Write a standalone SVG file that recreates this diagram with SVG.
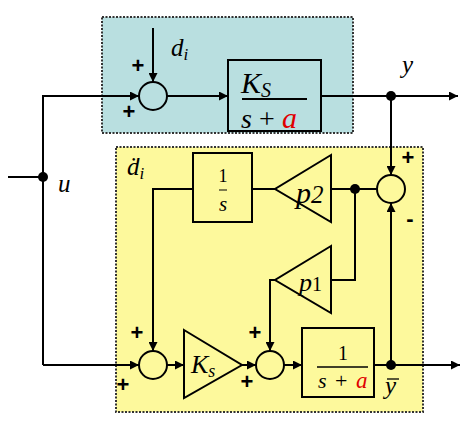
<svg xmlns="http://www.w3.org/2000/svg" width="474" height="437" viewBox="0 0 474 437">
<style>
.ln{fill:none;stroke:#000;stroke-width:2}
.blk{fill:none;stroke:#000;stroke-width:2}
.sum{fill:none;stroke:#000;stroke-width:2}
.dot{fill:#000}
.m{font-family:"Liberation Serif","DejaVu Serif",serif;font-style:italic;fill:#000}
.n{font-family:"Liberation Serif","DejaVu Serif",serif;fill:#000}
.red{fill:#e00000}
.sg{font-family:"Liberation Sans","DejaVu Sans",sans-serif;font-weight:bold;font-size:22px;fill:#000;text-anchor:middle}
.reg{stroke:#333;stroke-width:2;stroke-dasharray:2 1.5}
</style>
<defs>
<marker id="ah" viewBox="0 0 10 10" refX="10" refY="5" markerWidth="10" markerHeight="9" markerUnits="userSpaceOnUse" orient="auto">
<path d="M0,0 L10,5 L0,10 z" fill="#000"/>
</marker>
</defs>
<rect id="plant-region" class="reg" x="102" y="17" width="251" height="116" fill="#b9dfe0"/>
<rect id="observer-region" class="reg" x="116" y="147" width="307" height="265" fill="#fdf99c"/>
<g id="connectors">
<path class="ln" d="M8,177 H43"/>
<path class="ln" d="M43,365 V96 H139" marker-end="url(#ah)"/>
<path class="ln" d="M153,28 V82" marker-end="url(#ah)"/>
<path class="ln" d="M167,96 H228" marker-end="url(#ah)"/>
<path class="ln" d="M321,96 H458" marker-end="url(#ah)"/>
<path class="ln" d="M391,96 V175" marker-end="url(#ah)"/>
<path class="ln" d="M377,189 H331"/>
<path class="ln" d="M275,189 H252"/>
<path class="ln" d="M193,189 H153 V351" marker-end="url(#ah)"/>
<path class="ln" d="M355,189 V280 H331"/>
<path class="ln" d="M275,280 H270 V351" marker-end="url(#ah)"/>
<path class="ln" d="M43,365 H139" marker-end="url(#ah)"/>
<path class="ln" d="M167,365 H184" marker-end="url(#ah)"/>
<path class="ln" d="M242,365 H256" marker-end="url(#ah)"/>
<path class="ln" d="M284,365 H302" marker-end="url(#ah)"/>
<path class="ln" d="M374,365 H460" marker-end="url(#ah)"/>
<path class="ln" d="M391,365 V203" marker-end="url(#ah)"/>
<circle class="dot" cx="43" cy="177" r="5"/>
<circle class="dot" cx="391" cy="96" r="5"/>
<circle class="dot" cx="355" cy="189" r="5"/>
<circle class="dot" cx="391" cy="365" r="5"/>
</g>
<g id="sum-plant">
<circle class="sum" cx="153" cy="96" r="14"/>
<text class="sg" x="138" y="73">+</text>
<text class="sg" x="129" y="119">+</text>
</g>
<g id="plant">
<rect class="blk" x="228" y="60" width="93" height="71"/>
<text class="m" x="241" y="93" font-size="30">K<tspan font-size="20" dy="4">S</tspan></text>
<line x1="242" y1="99" x2="307" y2="99" stroke="#000" stroke-width="2"/>
<text class="m" x="241" y="128" font-size="28">s</text>
<text class="n" x="259" y="128" font-size="28">+</text>
<text class="m red" x="282" y="128" font-size="30">a</text>
</g>
<g id="sum-error">
<circle class="sum" cx="391" cy="189" r="14"/>
<text class="sg" x="408" y="165">+</text>
<text class="sg" x="410" y="226">-</text>
</g>
<g id="gain-p2">
<path class="blk" d="M331,155 L275,189 L331,222 Z"/>
<text class="m" x="296" y="203" font-size="30">p<tspan font-size="25">2</tspan></text>
</g>
<g id="integrator">
<rect class="blk" x="193" y="153" width="59" height="69"/>
<text class="n" x="223" y="182" font-size="18" text-anchor="middle">1</text>
<line x1="219" y1="190" x2="227" y2="190" stroke="#000" stroke-width="1"/>
<text class="m" x="223" y="211" font-size="21" text-anchor="middle">s</text>
</g>
<g id="gain-p1">
<path class="blk" d="M331,246 L275,280 L331,313 Z"/>
<text class="m" x="299" y="291" font-size="26">p<tspan font-style="normal" font-size="20">1</tspan></text>
</g>
<g id="sum-in">
<circle class="sum" cx="153" cy="365" r="14"/>
<text class="sg" x="137" y="340">+</text>
<text class="sg" x="123" y="392">+</text>
</g>
<g id="gain-ks">
<path class="blk" d="M184,330 L242,365 L184,398 Z"/>
<text class="m" x="191" y="373" font-size="26">K<tspan font-size="18" dy="4">s</tspan></text>
</g>
<g id="sum-model">
<circle class="sum" cx="270" cy="365" r="14"/>
<text class="sg" x="255" y="340">+</text>
<text class="sg" x="247" y="389">+</text>
</g>
<g id="model">
<rect class="blk" x="302" y="328" width="72" height="69"/>
<text class="n" x="343" y="360" font-size="20" text-anchor="middle">1</text>
<line x1="317" y1="367" x2="368" y2="367" stroke="#000" stroke-width="1.5"/>
<text class="m" x="318" y="388" font-size="22">s</text>
<text class="n" x="335" y="388" font-size="22">+</text>
<text class="m red" x="356" y="388" font-size="23">a</text>
</g>
<g id="labels">
<text class="m" x="171" y="56" font-size="25">d<tspan font-size="17" dy="4">i</tspan></text>
<text class="m" x="127" y="175" font-size="25">ḋ<tspan font-size="17" dy="4">i</tspan></text>
<text class="m" x="58" y="192" font-size="25">u</text>
<text class="m" x="402" y="73" font-size="25">y</text>
<text class="m" x="385" y="394" font-size="25">y</text>
<line x1="387" y1="379" x2="399" y2="379" stroke="#000" stroke-width="1.3"/>
</g>
</svg>
